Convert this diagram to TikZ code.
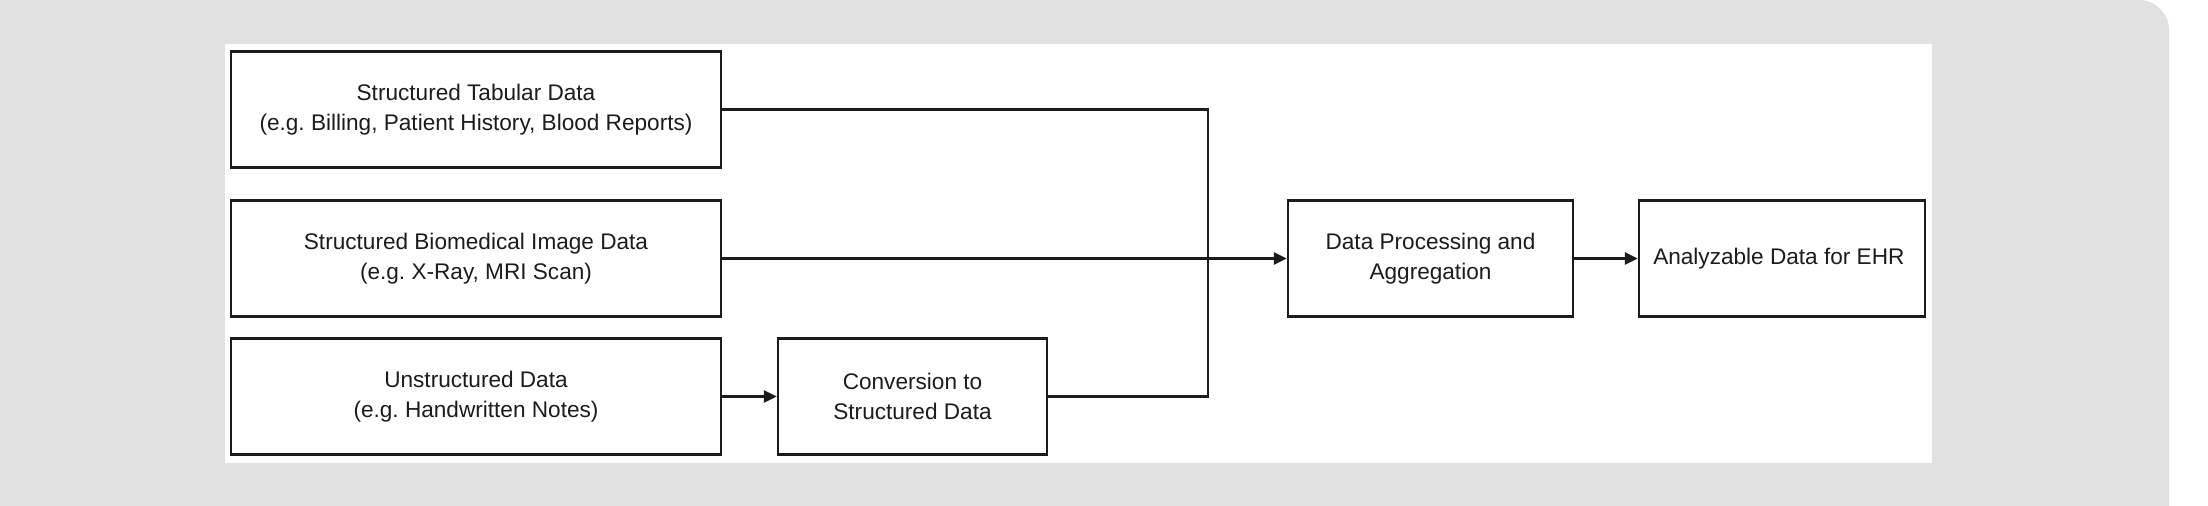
\documentclass[tikz,border=0pt]{standalone}
\usepackage{fontspec}
\setmainfont{Liberation Sans}
\usetikzlibrary{positioning,arrows.meta}
\definecolor{cardgray}{HTML}{E1E1E1}
\definecolor{inkline}{HTML}{1C1C1C}
\frenchspacing

\begin{document}
\begin{tikzpicture}[
    x=0.5pt, y=-0.5pt,
    dataBox/.style={rectangle, draw=inkline, fill=white, line width=1.2pt, text=inkline, font=\fontsize{11.3}{15}\selectfont, align=center, inner sep=0pt, minimum height=58pt},
    wideBox/.style={dataBox, minimum width=245pt},
    flowLine/.style={line width=1.2pt, draw=inkline},
    arrowStyle/.style={flowLine, -{Triangle[length=6.5pt,width=6pt]}}
]
    \useasboundingbox (0,0) rectangle (2208,506);
    \fill[white] (0,0) rectangle (2208,506);
    \fill[cardgray, rounded corners=15pt] (-40,0) rectangle (2169,560);
    \fill[white] (225,44) rectangle (1932,463);

    \node[wideBox] (tab) at (476, 109.5) {
        Structured Tabular Data\\
        (e.g. Billing, Patient History, Blood Reports)
    };

    \node[wideBox] (img) at (476, 258.5) {
        Structured Biomedical Image Data\\
        (e.g. X-Ray, MRI Scan)
    };

    \node[wideBox] (uns) at (476, 396.5) {
        Unstructured Data\\
        (e.g. Handwritten Notes)
    };

    \node[dataBox, minimum width=134.5pt] (conv) at (912.5, 396.5) {
        Conversion to\\
        Structured Data
    };

    \node[dataBox, minimum width=142.5pt] (proc) at (1430.5, 258.5) {
        Data Processing and\\
        Aggregation
    };

    \node[dataBox, minimum width=143pt] (ehr) at (1782, 258.5) {
        Analyzable Data for EHR
    };

    \coordinate (join) at (1208, 258.5);
    \draw[flowLine] (tab.east) -| (join);
    \draw[flowLine] (conv.east) -| (join);
    \draw[arrowStyle] (uns.east) -- (conv.west);
    \draw[arrowStyle] (img.east) -- (proc.west);
    \draw[arrowStyle] (proc.east) -- (ehr.west);
\end{tikzpicture}
\end{document}
